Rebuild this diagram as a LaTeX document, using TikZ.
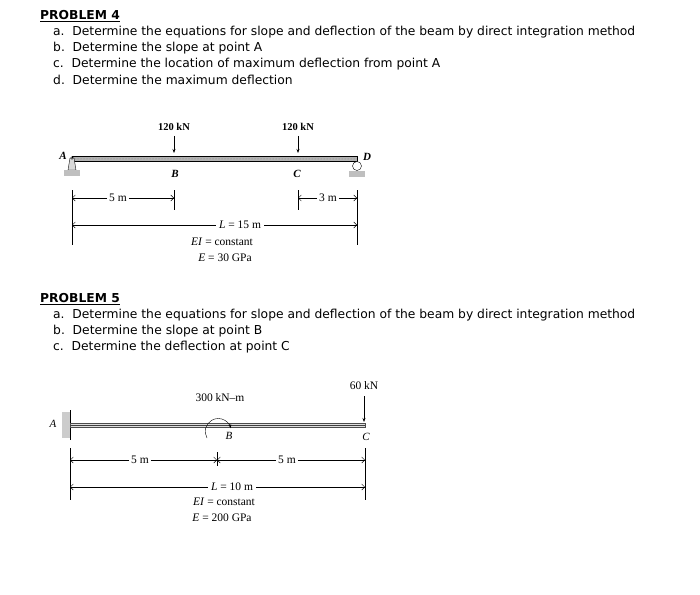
\documentclass[tikz,border=0pt]{standalone}
\usepackage{fontspec}
\setmainfont{Liberation Serif}
\newfontfamily\hdr{DejaVu Sans}
\usetikzlibrary{arrows.meta,patterns}
\begin{document}
\begin{tikzpicture}[x=1pt,y=-1pt,
  hd/.style={anchor=west,inner sep=0pt,font=\hdr\fontsize{12.3}{14}\selectfont},
  lb/.style={inner sep=0pt,font=\fontsize{11.5}{13}\selectfont},
  lbi/.style={inner sep=0pt,font=\bfseries\itshape\fontsize{11}{13}\selectfont},
  dim/.style={-{Straight Barb[length=3pt]},thin},
  ext/.style={thin},
  load/.style={-{Stealth[length=4pt]},thick}]
\useasboundingbox (0,0) rectangle (700,594);
% Problem 4 header
\node[hd] (p4) at (40,16) {\textbf{\underline{PROBLEM 4}}};
\node[hd] (p4a) at (53,32) {a.\ \ Determine the equations for slope and deflection of the beam by direct integration method};
\node[hd] (p4b) at (53,48) {b.\ \ Determine the slope at point A};
\node[hd] (p4c) at (53,64) {c.\ \ Determine the location of maximum deflection from point A};
\node[hd] (p4d) at (53,80) {d.\ \ Determine the maximum deflection};
% Beam 4
\fill[gray!60] (72,156) rectangle (357,161);
\draw[gray!80!black] (72,156) rectangle (357,161);
\draw[pattern=dots,pattern color=gray] (72,156) rectangle (357,161);
% pin support A
\draw[fill=gray!30] (68,170) -- (70,158) -- (74,158) -- (76,170) -- cycle;
\draw (72,158) circle (1.3);
\fill[gray!50] (64,170) rectangle (80,176);
% roller D
\draw[fill=white] (357,166) circle (4.5);
\fill[gray!50] (349,171) rectangle (365,177);
\node[lbi] (A4) at (63,156) {A};
\node[lbi] (D4) at (367,157) {D};
\node[lbi] (B4) at (175,174) {B};
\node[lbi] (C4) at (297,174) {C};
\node[lb,font=\bfseries\fontsize{10.5}{13}\selectfont] (F1) at (174,127) {120 kN};
\node[lb,font=\bfseries\fontsize{10.5}{13}\selectfont] (F2) at (298,127) {120 kN};
\coordinate (F1e) at (174,153); \coordinate (F2e) at (298,153);
\draw[load] (F1.south) ++(0,5) -- (F1e);
\draw[load] (F2.south) ++(0,5) -- (F2e);
% dims
\coordinate (a1) at (72,190); \coordinate (a2) at (72,245);
\coordinate (b1) at (174,190); \coordinate (b2) at (174,210);
\coordinate (c1) at (298,190); \coordinate (c2) at (298,210);
\coordinate (d1) at (357,190); \coordinate (d2) at (357,245);
\draw[ext] (a1)--(a2) (b1)--(b2) (c1)--(c2) (d1)--(d2);
\node[lb,fill=white,inner xsep=2pt] (m5) at (118,198) {5 m};
\draw[dim] (m5.west) -- (72,198); \draw[dim] (m5.east) -- (174,198);
\node[lb,fill=white,inner xsep=2pt] (m3) at (328,198) {3 m};
\draw[dim] (m3.west) -- (298,198); \draw[dim] (m3.east) -- (357,198);
\node[lb,fill=white,inner xsep=3pt] (L4) at (240,225) {\textit{L} = 15 m};
\draw[dim] (L4.west) -- (72,225); \draw[dim] (L4.east) -- (357,225);
\node[lb] (EI4) at (222,242) {\textit{EI} = constant};
\node[lb] (E4) at (225,258) {\textit{E} = 30 GPa};
% Problem 5 header
\node[hd] (p5) at (40,299) {\textbf{\underline{PROBLEM 5}}};
\node[hd] (p5a) at (53,315) {a.\ \ Determine the equations for slope and deflection of the beam by direct integration method};
\node[hd] (p5b) at (53,331) {b.\ \ Determine the slope at point B};
\node[hd] (p5c) at (53,347) {c.\ \ Determine the deflection at point C};
% Beam 5
\fill[gray!40] (62,412) rectangle (70,438);
\draw (70,410) -- (70,440);
\draw[gray!60!black,fill=gray!25] (70,423) rectangle (365,427);
\draw[gray!50!black] (70,425) -- (365,425);
\node[lb,font=\itshape\fontsize{11}{13}\selectfont] (A5) at (53,424) {A};
\node[lb,font=\itshape\fontsize{11}{13}\selectfont] (B5) at (229,436) {B};
\node[lb,font=\itshape\fontsize{11}{13}\selectfont] (C5) at (366,437) {C};
\node[lb] (M5) at (220,398) {300 kN--m};
\draw[-{Stealth[length=4pt]}] (207,438) arc[start angle=150,end angle=345,radius=13];
\node[lb] (F5) at (364,386) {60 kN};
\coordinate (F5e) at (364,422);
\draw[load] (F5.south) ++(0,6) -- (F5e);
\coordinate (e1) at (70,448); \coordinate (e2) at (70,500);
\coordinate (g1) at (217,452); \coordinate (g2) at (217,466);
\coordinate (h1) at (365,448); \coordinate (h2) at (365,500);
\draw[ext] (e1)--(e2) (g1)--(g2) (h1)--(h2);
\node[lb,fill=white,inner xsep=2pt] (n5a) at (140,460) {5 m};
\draw[dim] (n5a.west) -- (70,460); \draw[dim] (n5a.east) -- (217,460);
\node[lb,fill=white,inner xsep=2pt] (n5b) at (287,460) {5 m};
\draw[dim] (n5b.west) -- (217,460); \draw[dim] (n5b.east) -- (365,460);
\node[lb,fill=white,inner xsep=3pt] (L5) at (232,487) {\textit{L} = 10 m};
\draw[dim] (L5.west) -- (70,487); \draw[dim] (L5.east) -- (365,487);
\node[lb] (EI5) at (224,502) {\textit{EI} = constant};
\node[lb] (E5) at (222,518) {\textit{E} = 200 GPa};
\end{tikzpicture}
\end{document}
